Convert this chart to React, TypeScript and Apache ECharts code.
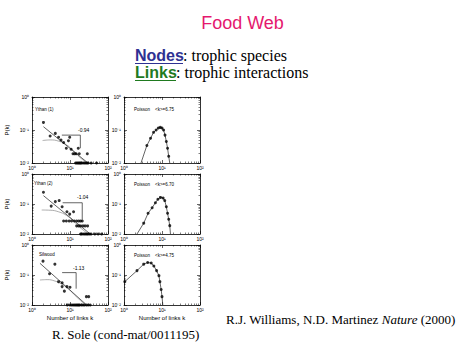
import React, { useEffect, useRef } from 'react';
import * as echarts from 'echarts';

// ---------- tick labels / texts ----------
const xTickLabels = ['10⁰', '10¹', '10²'];
const yTickLabels = ['10⁻²', '10⁻¹', '10⁰'];
const panelNames = ['Ythan (1)', 'Poisson', 'Ythan (2)', 'Poisson', 'Silwood', 'Poisson'];
const meanLabels = ['', '<k>=6.75', '', '<k>=6.70', '', '<k>=4.75'];
const slopeLabels = ['-0.94', '', '-1.04', '', '-1.13', ''];
const floorP = 0.01;

// ---------- Ythan (1) ----------
const ythan1Points: [number, number][] = [
  [2.0, 0.17], [3.0, 0.066], [4.1, 0.079], [5.0, 0.06], [5.8, 0.05], [6.8, 0.042],
  [8, 0.028], [9.1, 0.047], [9.8, 0.06], [10.7, 0.026], [12, 0.019], [13.2, 0.019],
  [14.5, 0.019], [16.5, 0.028], [17.5, 0.019], [28.5, 0.019],
];
const ythan1FloorK = [14, 15, 16, 17, 18, 19, 20, 22, 24, 26, 28, 30, 36, 50];
const ythan1Fit: [number, number][] = [[2, 0.126], [31, 0.0096]];
const ythan1Curve: [number, number][] = [
  [1.9, 0.048], [3, 0.05], [5, 0.046], [8, 0.036], [12, 0.024], [18, 0.015], [25, 0.011], [30, 0.009],
];
const ythan1Bracket: [number, number][] = [[6.1, 0.07], [18.7, 0.07], [18.7, 0.028]];

// ---------- Ythan (2) ----------
const ythan2Points: [number, number][] = [
  [2, 0.245], [3.2, 0.085], [4.1, 0.12], [5.2, 0.13], [6.2, 0.081], [8.3, 0.055],
  [9.8, 0.046], [12.4, 0.055],
  [6.8, 0.027], [8, 0.027], [9.5, 0.027], [11, 0.027], [13, 0.027], [15, 0.027], [17, 0.027], [19, 0.027], [21, 0.027],
  [15, 0.0186], [17, 0.0186], [19, 0.0186], [22, 0.0186], [25, 0.0186], [29, 0.0186],
];
const ythan2FloorK = [19, 20, 22, 24, 26, 28, 30, 33, 36, 45, 55, 68];
const ythan2Fit: [number, number][] = [[2, 0.19], [34, 0.01]];
const ythan2Curve: [number, number][] = [
  [1.8, 0.063], [3, 0.062], [5, 0.055], [8, 0.042], [12, 0.028], [18, 0.017], [25, 0.012], [32, 0.0095],
];
const ythan2Bracket: [number, number][] = [[6.4, 0.11], [21, 0.11], [21, 0.03]];

// ---------- Silwood ----------
const silwoodPoints: [number, number][] = [
  [1.95, 0.29], [4, 0.23], [2.9, 0.11], [5, 0.06], [6.2, 0.055], [6.2, 0.041],
  [7.1, 0.029], [8.3, 0.041], [10, 0.039], [27, 0.019], [31, 0.019],
];
const silwoodFloorK = [8.5, 10, 11, 12, 13, 14, 15, 16, 17, 18, 20, 22, 24, 27, 30, 34];
const silwoodFit: [number, number][] = [[1.62, 0.245], [27.5, 0.01]];
const silwoodCurve: [number, number][] = [
  [1.62, 0.068], [2.5, 0.07], [4, 0.063], [6, 0.05], [9, 0.035], [13, 0.022], [19, 0.014], [26, 0.01],
];
const silwoodBracket: [number, number][] = [[6.2, 0.12], [14.5, 0.12], [14.5, 0.035]];

// ---------- Poisson panels ----------
const poissonA: [number, number][] = [
  [4, 0.034], [5, 0.056], [6, 0.085], [7, 0.1], [8, 0.115], [9, 0.12], [10, 0.115],
  [11, 0.1], [12, 0.07], [13, 0.045], [14, 0.028], [15, 0.016],
];
const poissonAEnds: [number, number][] = [[2.8, 0.01], [16, 0.01]];
const poissonB: [number, number][] = [
  [3.3, 0.023], [4.3, 0.049], [5.5, 0.075], [6.7, 0.11], [7.8, 0.144], [9.1, 0.166],
  [10.7, 0.158], [11.8, 0.13], [13, 0.081], [14, 0.049], [15, 0.031], [16, 0.019],
];
const poissonBEnds: [number, number][] = [[2.2, 0.01], [16.7, 0.01]];
const poissonC: [number, number][] = [
  [1.05, 0.06], [2.2, 0.14], [3.3, 0.23], [4.2, 0.26], [5.2, 0.25], [6.1, 0.2],
  [7.2, 0.14], [8.3, 0.095], [8.8, 0.06], [9.5, 0.033], [10, 0.019],
];
const poissonCEnds: [number, number][] = [[1.05, 0.06], [10.5, 0.01]];

// ---------- layout ----------
const grids = [
  { left: 32, top: 97, width: 76, height: 66 },
  { left: 124, top: 97, width: 76, height: 66 },
  { left: 32, top: 174, width: 76, height: 60 },
  { left: 124, top: 174, width: 76, height: 60 },
  { left: 32, top: 245, width: 76, height: 60 },
  { left: 124, top: 245, width: 76, height: 60 },
];
const nameOffsets = [[3, 12], [10, 12], [2, 9], [10, 10], [7, 9], [10, 10]];
const slopePos = [[78, 130], null, [77, 197], null, [73, 268], null];

const expOf = (v: number) => Math.round(Math.log10(v));

function buildOption() {
  const xAxis: any[] = [];
  const yAxis: any[] = [];
  const series: any[] = [];
  const common = (i: number) => ({
    type: 'log',
    logBase: 10,
    gridIndex: i,
    axisLine: { show: true, onZero: false, lineStyle: { color: '#000', width: 0.8 } },
    axisTick: { show: true, inside: true, length: 3, lineStyle: { color: '#000', width: 0.6 } },
    minorTick: { show: true, splitNumber: 9, length: 1.5, lineStyle: { color: '#000', width: 0.5 } },
    splitLine: { show: false },
    minorSplitLine: { show: false },
  });
  const lab = { show: true, fontSize: 5, color: '#000', fontFamily: 'Liberation Sans' };
  grids.forEach((_, i) => {
    xAxis.push({ ...common(i), min: 1, max: 100, position: 'bottom',
      axisLabel: { ...lab, margin: 2, formatter: (v: number) => xTickLabels[expOf(v)] ?? '' } });
    xAxis.push({ ...common(i), min: 1, max: 100, position: 'top', axisLabel: { show: false } });
    yAxis.push({ ...common(i), min: 0.01, max: 1, position: 'left',
      axisLabel: { ...lab, margin: 3, formatter: (v: number) => yTickLabels[expOf(v) + 2] ?? '' } });
    yAxis.push({ ...common(i), min: 0.01, max: 1, position: 'right', axisLabel: { show: false } });
  });

  const ax = (i: number) => ({ xAxisIndex: 2 * i, yAxisIndex: 2 * i });
  const scatter = (i: number, data: [number, number][]) => ({
    type: 'scatter', ...ax(i), data, symbol: 'circle', symbolSize: 3, clip: false,
    itemStyle: { color: '#000' }, z: 4,
  });
  const line = (i: number, data: [number, number][], color: string, width: number, smooth = false) => ({
    type: 'line', ...ax(i), data, showSymbol: false, symbol: 'none', smooth,
    lineStyle: { color, width }, z: 3,
  });

  const empirical = [
    { i: 0, pts: ythan1Points, floor: ythan1FloorK, fit: ythan1Fit, curve: ythan1Curve, br: ythan1Bracket },
    { i: 2, pts: ythan2Points, floor: ythan2FloorK, fit: ythan2Fit, curve: ythan2Curve, br: ythan2Bracket },
    { i: 4, pts: silwoodPoints, floor: silwoodFloorK, fit: silwoodFit, curve: silwoodCurve, br: silwoodBracket },
  ];
  empirical.forEach((p) => {
    series.push(line(p.i, p.curve, '#8a8a8a', 0.7, true));
    series.push(line(p.i, p.fit, '#222', 0.7));
    series.push(line(p.i, p.br, '#222', 0.7));
    series.push(scatter(p.i, p.pts));
    series.push(scatter(p.i, p.floor.map((k) => [k, floorP] as [number, number])));
  });

  const poissons = [
    { i: 1, pts: poissonA, ends: poissonAEnds },
    { i: 3, pts: poissonB, ends: poissonBEnds },
    { i: 5, pts: poissonC, ends: poissonCEnds },
  ];
  poissons.forEach((p) => {
    const all = [p.ends[0], ...p.pts, p.ends[1]];
    series.push(line(p.i, all, '#222', 0.7));
    series.push(scatter(p.i, p.pts));
  });

  const graphic: any[] = [];
  const txt = (x: number, y: number, text: string, style: any, extra: any = {}) =>
    graphic.push({ type: 'text', x, y, ...extra, style: { text, fill: '#000', ...style } });

  txt(242.5, 23, 'Food Web', { fontSize: 18, fontFamily: 'Liberation Sans', fill: '#E5186E', textAlign: 'center', textVerticalAlign: 'middle' });
  txt(135, 55, 'Nodes', { fontSize: 16, fontWeight: 'bold', fontFamily: 'Liberation Sans', fill: '#2E3192', textVerticalAlign: 'middle' });
  txt(183, 55, ': trophic species', { fontSize: 16, fontFamily: 'Liberation Serif', textVerticalAlign: 'middle' });
  txt(135, 72, 'Links', { fontSize: 16, fontWeight: 'bold', fontFamily: 'Liberation Sans', fill: '#1F7A1F', textVerticalAlign: 'middle' });
  txt(176, 72, ': trophic interactions', { fontSize: 16, fontFamily: 'Liberation Serif', textVerticalAlign: 'middle' });
  graphic.push({ type: 'line', shape: { x1: 135, y1: 63.5, x2: 183, y2: 63.5 }, style: { stroke: '#2E3192', lineWidth: 1.2 } });
  graphic.push({ type: 'line', shape: { x1: 135, y1: 80.5, x2: 176, y2: 80.5 }, style: { stroke: '#1F7A1F', lineWidth: 1.2 } });

  txt(52, 334, 'R. Sole (cond-mat/0011195)', { fontSize: 13, fontFamily: 'Liberation Serif', textVerticalAlign: 'middle' });
  txt(226, 319, '{n|R.J. Williams, N.D. Martinez }{i|Nature}{n| (2000)}', {
    fontSize: 13, fontFamily: 'Liberation Serif', textVerticalAlign: 'middle',
    rich: {
      n: { fontSize: 13, fontFamily: 'Liberation Serif', fill: '#000' },
      i: { fontSize: 13, fontFamily: 'Liberation Serif', fontStyle: 'italic', fill: '#000' },
    },
  });

  grids.forEach((g, i) => {
    const [ox, oy] = nameOffsets[i];
    txt(g.left + ox, g.top + oy, panelNames[i], { fontSize: 4.5, fontFamily: 'Liberation Sans', textVerticalAlign: 'middle' });
    if (meanLabels[i]) {
      txt(g.left + 31, g.top + oy, meanLabels[i], { fontSize: 4.5, fontFamily: 'Liberation Sans', textVerticalAlign: 'middle' });
    }
    const sp = slopePos[i];
    if (sp && slopeLabels[i]) {
      txt(sp[0], sp[1], slopeLabels[i], { fontSize: 5, fontFamily: 'Liberation Sans', textVerticalAlign: 'middle' });
    }
    if (i % 2 === 0) {
      txt(7, g.top + g.height / 2, 'P(k)', { fontSize: 6, fontFamily: 'Liberation Sans', textAlign: 'center', textVerticalAlign: 'middle' }, { rotation: Math.PI / 2 });
    }
    if (i >= 4) {
      txt(g.left + g.width / 2, 318, 'Number of links k', { fontSize: 6, fontFamily: 'Liberation Sans', textAlign: 'center', textVerticalAlign: 'middle' });
    }
  });

  return {
    animation: false,
    backgroundColor: '#fff',
    grid: grids.map((g) => ({ ...g, containLabel: false })),
    xAxis,
    yAxis,
    series,
    graphic,
  };
}

export default function App() {
  const ref = useRef<HTMLDivElement>(null);
  useEffect(() => {
    if (!ref.current) return;
    const chart = echarts.init(ref.current, undefined, { renderer: 'svg' });
    chart.setOption(buildOption() as any);
    return () => chart.dispose();
  }, []);
  return (
    <div
      ref={ref}
      style={{ position: 'fixed', left: 0, top: 0, width: 474, height: 355, background: '#fff' }}
    />
  );
}
